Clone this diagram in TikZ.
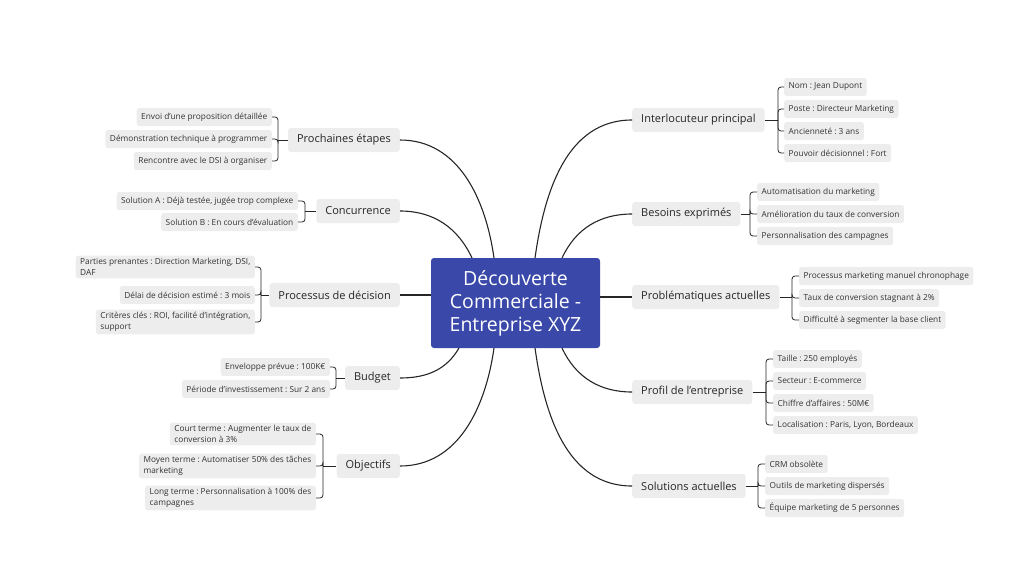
\documentclass[tikz,border=0pt]{standalone}
\usepackage{fontspec}
\setmainfont{Open Sans}
\frenchspacing
\begin{document}
\begin{tikzpicture}[x=1pt,y=-1pt,
  center/.style={fill=cblue,rounded corners=3pt,text=white,font=\fontsize{19.5}{23}\selectfont,align=center,minimum width=169pt,minimum height=90pt,inner sep=2pt},
  br/.style={fill=gbox,rounded corners=3pt,font=\fontsize{11}{13}\selectfont,minimum height=24pt,inner xsep=9pt,text=black!85},
  ch/.style={fill=gbox,rounded corners=2.5pt,font=\fontsize{8.3}{10.5}\selectfont,minimum height=18pt,inner xsep=4.5pt,inner ysep=3pt,text=black!80,align=left},
  cl/.style={ch,anchor=east},
  cr/.style={ch,anchor=west},
  ln/.style={draw=black!85,line width=1.1pt},
  bk/.style={draw=black!85,line width=0.8pt,rounded corners=3pt}]
\definecolor{cblue}{HTML}{3A48A9}
\definecolor{gbox}{HTML}{EDEDED}
\useasboundingbox (0,0) rectangle (1024,576);
\node[center] (c) at (515.5,303) {Découverte\\Commerciale -\\Entreprise XYZ};
% right branches
\node[br,anchor=west] (r1) at (632,120) {Interlocuteur principal};
\node[br,anchor=west] (r2) at (632,214) {Besoins exprimés};
\node[br,anchor=west] (r3) at (632,297) {Problématiques actuelles};
\node[br,anchor=west] (r4) at (632,392) {Profil de l'entreprise};
\node[br,anchor=west] (r5) at (632,486) {Solutions actuelles};
% left branches
\node[br,anchor=east] (l1) at (400,140) {Prochaines étapes};
\node[br,anchor=east] (l2) at (400,211) {Concurrence};
\node[br,anchor=east] (l3) at (400,295) {Processus de décision};
\node[br,anchor=east] (l4) at (400,378) {Budget};
\node[br,anchor=east] (l5) at (400,466) {Objectifs};
% start points
\coordinate (t1) at (472,258); \coordinate (t2) at (494,258);
\coordinate (t3) at (535,258); \coordinate (t4) at (562,258);
\coordinate (b1) at (459,348); \coordinate (b2) at (494,348);
\coordinate (b3) at (535,348); \coordinate (b4) at (562,348);
\draw[ln] (t3) to[out=82,in=180] (r1.west);
\draw[ln] (t4) to[out=65,in=180] (r2.west);
\draw[ln] (c.east |- r3.west) -- (r3.west);
\draw[ln] (b4) to[out=-65,in=180] (r4.west);
\draw[ln] (b3) to[out=-82,in=180] (r5.west);
\draw[ln] (t2) to[out=98,in=0] (l1.east);
\draw[ln] (t1) to[out=115,in=0] (l2.east);
\draw[ln] (c.west |- l3.east) -- (l3.east);
\draw[ln] (b1) to[out=-120,in=0] (l4.east);
\draw[ln] (b2) to[out=-98,in=0] (l5.east);
% right children
\node[cr] (r1a) at (784,87) {Nom : Jean Dupont};
\node[cr] (r1b) at (784,109) {Poste : Directeur Marketing};
\node[cr] (r1c) at (784,131) {Ancienneté : 3 ans};
\node[cr] (r1d) at (784,153) {Pouvoir décisionnel : Fort};
\node[cr] (r2a) at (757,192) {Automatisation du marketing};
\node[cr] (r2b) at (757,214) {Amélioration du taux de conversion};
\node[cr] (r2c) at (757,236) {Personnalisation des campagnes};
\node[cr] (r3a) at (799,276) {Processus marketing manuel chronophage};
\node[cr] (r3b) at (799,298) {Taux de conversion stagnant à 2\%};
\node[cr] (r3c) at (799,320) {Difficulté à segmenter la base client};
\node[cr] (r4a) at (773,359) {Taille : 250 employés};
\node[cr] (r4b) at (773,381) {Secteur : E-commerce};
\node[cr] (r4c) at (773,403) {Chiffre d'affaires : 50M€};
\node[cr] (r4d) at (773,425) {Localisation : Paris, Lyon, Bordeaux};
\node[cr] (r5a) at (765,464) {CRM obsolète};
\node[cr] (r5b) at (765,486) {Outils de marketing dispersés};
\node[cr] (r5c) at (765,508) {Équipe marketing de 5 personnes};
% left children
\node[cl] (l1a) at (272,117) {Envoi d'une proposition détaillée};
\node[cl] (l1b) at (272,139) {Démonstration technique à programmer};
\node[cl] (l1c) at (272,161) {Rencontre avec le DSI à organiser};
\node[cl] (l2a) at (298,201) {Solution A : Déjà testée, jugée trop complexe};
\node[cl] (l2b) at (298,222) {Solution B : En cours d'évaluation};
\node[cl] (l3a) at (255,267) {Parties prenantes : Direction Marketing, DSI,\\DAF};
\node[cl] (l3b) at (255,295) {Délai de décision estimé : 3 mois};
\node[cl] (l3c) at (255,322) {Critères clés : ROI, facilité d'intégration,\\support};
\node[cl] (l4a) at (330,367) {Enveloppe prévue : 100K€};
\node[cl] (l4b) at (330,389) {Période d'investissement : Sur 2 ans};
\node[cl] (l5a) at (316,434) {Court terme : Augmenter le taux de\\conversion à 3\%};
\node[cl] (l5b) at (316,466) {Moyen terme : Automatiser 50\% des tâches\\marketing};
\node[cl] (l5c) at (316,498) {Long terme : Personnalisation à 100\% des\\campagnes};
% brackets
\foreach \p/\x/\k in {r1/778/{a,b,c,d},r2/750/{a,b,c},r3/792/{a,b,c},r4/766/{a,b,c,d},r5/758/{a,b,c}}{
  \draw[bk] (\p.east) -- (\x,0 |- \p.east);
  \foreach \q in \k { \draw[bk] (\x,0 |- \p.east) |- (\p\q.west); }
}
\foreach \p/\x/\k in {l1/278/{a,b,c},l2/305/{a,b},l3/261/{a,b,c},l4/336/{a,b},l5/323/{a,b,c}}{
  \draw[bk] (\p.west) -- (\x,0 |- \p.west);
  \foreach \q in \k { \draw[bk] (\x,0 |- \p.west) |- (\p\q.east); }
}
\end{tikzpicture}
\end{document}
